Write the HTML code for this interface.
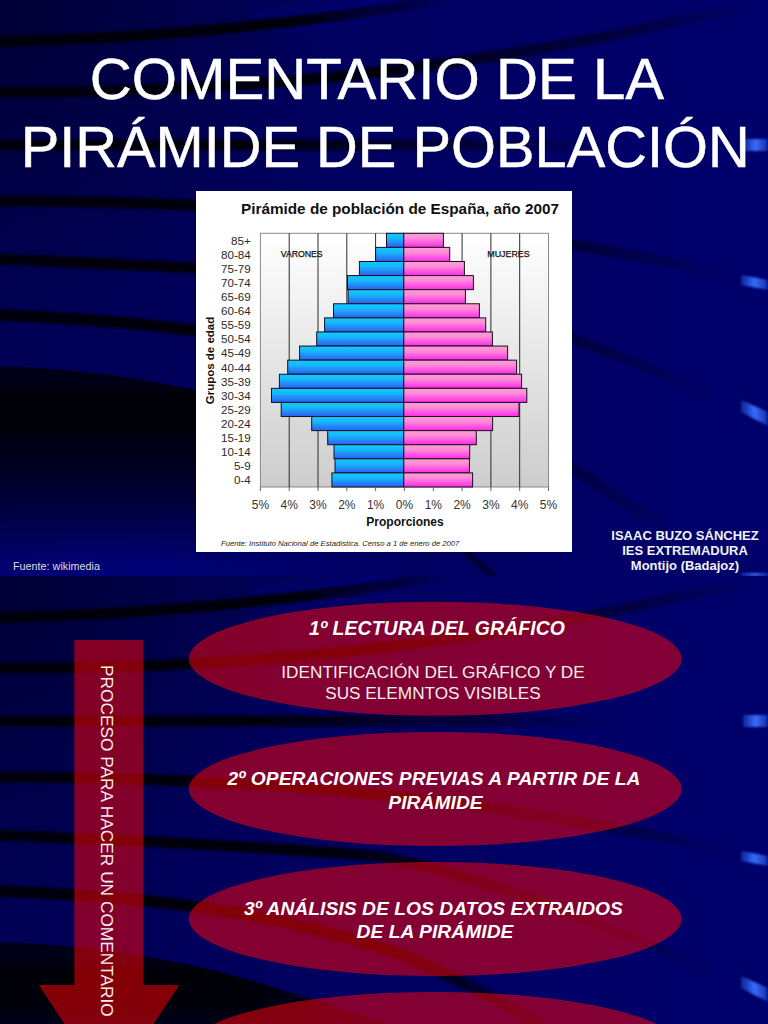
<!DOCTYPE html>
<html><head><meta charset="utf-8">
<style>
html,body{margin:0;padding:0;width:768px;height:1024px;overflow:hidden;background:#000060;}
body{position:relative;font-family:"Liberation Sans",sans-serif;}
.slide{position:absolute;left:0;width:768px;overflow:hidden;}
.abs{position:absolute;white-space:nowrap;}
</style></head><body>
<svg width="0" height="0" style="position:absolute">
<defs>
<linearGradient id="bgg" x1="0" y1="0" x2="1" y2="0">
<stop offset="0" stop-color="#000054"/><stop offset="1" stop-color="#00006c"/>
</linearGradient>
<linearGradient id="lb" x1="0" y1="0" x2="1" y2="0">
<stop offset="0" stop-color="#10248c"/><stop offset="0.2" stop-color="#1c3cc0"/><stop offset="0.5" stop-color="#3a6cf8"/><stop offset="0.65" stop-color="#2c5ae4"/><stop offset="0.92" stop-color="#1a36b4"/><stop offset="1" stop-color="#0c1c80"/>
</linearGradient>

<linearGradient id="f1" gradientUnits="userSpaceOnUse" x1="300" y1="0" x2="470" y2="0"><stop offset="0" stop-color="#00000e"/><stop offset="1" stop-color="#00000e" stop-opacity="0"/></linearGradient>
<linearGradient id="f2" gradientUnits="userSpaceOnUse" x1="380" y1="0" x2="760" y2="0"><stop offset="0" stop-color="#00000e"/><stop offset="1" stop-color="#00000e" stop-opacity="0"/></linearGradient>
<linearGradient id="f3" gradientUnits="userSpaceOnUse" x1="260" y1="0" x2="620" y2="0"><stop offset="0" stop-color="#00000e"/><stop offset="1" stop-color="#00000e" stop-opacity="0"/></linearGradient>
<linearGradient id="f4" gradientUnits="userSpaceOnUse" x1="360" y1="0" x2="740" y2="0"><stop offset="0" stop-color="#00000e"/><stop offset="1" stop-color="#00000e" stop-opacity="0"/></linearGradient>
<linearGradient id="f5" gradientUnits="userSpaceOnUse" x1="330" y1="0" x2="720"><stop offset="0" stop-color="#00000e"/><stop offset="1" stop-color="#00000e" stop-opacity="0"/></linearGradient>
<linearGradient id="f6" gradientUnits="userSpaceOnUse" x1="380" y1="0" x2="680" y2="0"><stop offset="0" stop-color="#00000e"/><stop offset="1" stop-color="#00000e" stop-opacity="0"/></linearGradient>
<linearGradient id="dkv" x1="0" y1="0" x2="0" y2="1"><stop offset="0" stop-color="#00001a"/><stop offset="0.1" stop-color="#000014"/><stop offset="0.13" stop-color="#000006"/><stop offset="0.25" stop-color="#000008"/><stop offset="0.5" stop-color="#000024"/><stop offset="0.72" stop-color="#00003a" stop-opacity="0.55"/><stop offset="0.9" stop-color="#000040" stop-opacity="0"/></linearGradient>
<linearGradient id="dkh" gradientUnits="userSpaceOnUse" x1="250" y1="0" x2="560" y2="0"><stop offset="0" stop-color="#fff"/><stop offset="1" stop-color="#000"/></linearGradient>
<mask id="mdk"><rect x="-10" y="0" width="800" height="600" fill="url(#dkh)"/></mask>
<radialGradient id="tl" gradientUnits="userSpaceOnUse" cx="0" cy="0" r="330"><stop offset="0" stop-color="#000010" stop-opacity="0.45"/><stop offset="1" stop-color="#000010" stop-opacity="0"/></radialGradient>
<linearGradient id="bl" x1="0" y1="0" x2="0" y2="1"><stop offset="0" stop-color="#0000b0" stop-opacity="0"/><stop offset="1" stop-color="#0000b0" stop-opacity="0.35"/></linearGradient>
<linearGradient id="blh" gradientUnits="userSpaceOnUse" x1="150" y1="0" x2="420" y2="0"><stop offset="0" stop-color="#fff"/><stop offset="1" stop-color="#000"/></linearGradient>
<mask id="mbl"><rect x="0" y="0" width="800" height="600" fill="url(#blh)"/></mask>
<filter id="glow" x="-20%" y="-50%" width="140%" height="200%"><feGaussianBlur stdDeviation="5"/></filter>
<filter id="soft" x="-5%" y="-20%" width="110%" height="140%"><feGaussianBlur stdDeviation="0.8"/></filter>
<g id="tpl">
<rect x="0" y="0" width="768" height="576" fill="url(#bgg)"/>
<path d="M250,22 C330,16 400,6 470,-14" stroke="#0000c8" stroke-opacity="0.16" stroke-width="22" fill="none" filter="url(#glow)"/>
<rect x="0" y="0" width="768" height="576" fill="url(#tl)"/>
<rect x="0" y="500" width="768" height="76" fill="url(#bl)" mask="url(#mbl)"/>
<g fill="none" filter="url(#soft)">
<path d="M-10,41.7 C153.3,38.8 306.7,23.9 460,-2.8" stroke="url(#f1)" stroke-width="11"/>
<path d="M-5,92 C226.7,93 453.3,76 750,5" stroke="url(#f2)" stroke-width="11"/>
<path d="M-5,145 C250,145 500,144 742,145" stroke="url(#f3)" stroke-width="11"/>
<path d="M-5,201 C196,201 400,214 572,245 C660,259 720,272 745,283" stroke="url(#f4)" stroke-width="11"/>
<path d="M-5,259 C196,267 300,273 384,281 C480,300 600,345 745,410" stroke="url(#f5)" stroke-width="11"/>
<path d="M-5,315 C196,322 300,345 400,378 C500,420 580,470 680,540" stroke="url(#f6)" stroke-width="12"/>
<path d="M440,530 C460,548 478,562 500,582" stroke="#00000e" stroke-opacity="0.55" stroke-width="7"/>
</g>
<path d="M-5,366 C80,368 160,380 220,396 C280,412 340,432 400,452 C460,480 520,520 580,580 L-5,580 Z" fill="url(#dkv)" mask="url(#mdk)"/>
<g filter="url(#soft)">
<path d="M743,139 L768,139 L768,151 L743,151 Z" fill="url(#lb)"/>
<path d="M741,275 L768,280 L768,290 L741,285 Z" fill="url(#lb)"/>
<path d="M741,400 L768,412 L768,426 L741,412 Z" fill="url(#lb)"/>
<path d="M741,573 L768,573 L768,576 L741,576 Z" fill="url(#lb)"/>
</g>
</g>
<linearGradient id="gb" x1="0" y1="0" x2="0" y2="1">
<stop offset="0" stop-color="#0ecaff"/><stop offset="0.35" stop-color="#18b8fc"/><stop offset="1" stop-color="#2c5ef2"/>
</linearGradient>
<linearGradient id="gp" x1="0" y1="0" x2="0" y2="1">
<stop offset="0" stop-color="#ff9ed6"/><stop offset="0.35" stop-color="#ff8cd8"/><stop offset="1" stop-color="#ff28ea"/>
</linearGradient>
<linearGradient id="pa" x1="0" y1="0" x2="0" y2="1">
<stop offset="0" stop-color="#ffffff"/><stop offset="1" stop-color="#cdcdcd"/>
</linearGradient>
</defs>
</svg>

<div class="slide" style="top:0;height:576px;">
<svg width="768" height="576" style="position:absolute;left:0;top:0"><use href="#tpl"/></svg>
<div class="abs" style="left:1px;width:768px;top:44.8px;text-align:center;color:#fff;font-size:58.2px;line-height:68.5px;-webkit-text-stroke:0.5px #fff;">COMENTARIO DE LA&nbsp;</div>
<div class="abs" style="left:1.2px;width:768px;top:113.3px;text-align:center;color:#fff;font-size:57.8px;line-height:68.5px;-webkit-text-stroke:0.5px #fff;">PIRÁMIDE DE POBLACIÓN</div>

<svg width="768" height="576" style="position:absolute;left:0;top:0" font-family="Liberation Sans">
<rect x="196" y="191" width="376" height="361" fill="#fff"/>
<rect x="260.4" y="233.3" width="288.1" height="253.7" fill="url(#pa)" stroke="#888" stroke-width="1"/>
<line x1="289.2" y1="233.3" x2="289.2" y2="487" stroke="#2c2c2c" stroke-width="1"/>
<line x1="318.0" y1="233.3" x2="318.0" y2="487" stroke="#2c2c2c" stroke-width="1"/>
<line x1="346.8" y1="233.3" x2="346.8" y2="487" stroke="#2c2c2c" stroke-width="1"/>
<line x1="375.6" y1="233.3" x2="375.6" y2="487" stroke="#2c2c2c" stroke-width="1"/>
<line x1="404.4" y1="233.3" x2="404.4" y2="487" stroke="#2c2c2c" stroke-width="1"/>
<line x1="433.3" y1="233.3" x2="433.3" y2="487" stroke="#2c2c2c" stroke-width="1"/>
<line x1="462.1" y1="233.3" x2="462.1" y2="487" stroke="#2c2c2c" stroke-width="1"/>
<line x1="490.9" y1="233.3" x2="490.9" y2="487" stroke="#2c2c2c" stroke-width="1"/>
<line x1="519.7" y1="233.3" x2="519.7" y2="487" stroke="#2c2c2c" stroke-width="1"/>

<text x="280.8" y="256.5" font-size="8.7" fill="#111" stroke="#111" stroke-width="0.25">VARONES</text>
<text x="487.3" y="256.5" font-size="8.9" fill="#111" stroke="#111" stroke-width="0.25">MUJERES</text>
<rect x="386.5" y="233.30" width="17.2" height="14.09" fill="url(#gb)" stroke="#151020" stroke-width="1"/>
<rect x="403.8" y="233.30" width="39.6" height="14.09" fill="url(#gp)" stroke="#151020" stroke-width="1"/>
<rect x="375.6" y="247.39" width="28.1" height="14.09" fill="url(#gb)" stroke="#151020" stroke-width="1"/>
<rect x="403.8" y="247.39" width="45.9" height="14.09" fill="url(#gp)" stroke="#151020" stroke-width="1"/>
<rect x="359.4" y="261.49" width="44.4" height="14.09" fill="url(#gb)" stroke="#151020" stroke-width="1"/>
<rect x="403.8" y="261.49" width="60.6" height="14.09" fill="url(#gp)" stroke="#151020" stroke-width="1"/>
<rect x="347.5" y="275.58" width="56.2" height="14.09" fill="url(#gb)" stroke="#151020" stroke-width="1"/>
<rect x="403.8" y="275.58" width="69.6" height="14.09" fill="url(#gp)" stroke="#151020" stroke-width="1"/>
<rect x="348.1" y="289.68" width="55.6" height="14.09" fill="url(#gb)" stroke="#151020" stroke-width="1"/>
<rect x="403.8" y="289.68" width="61.6" height="14.09" fill="url(#gp)" stroke="#151020" stroke-width="1"/>
<rect x="333.5" y="303.77" width="70.2" height="14.09" fill="url(#gb)" stroke="#151020" stroke-width="1"/>
<rect x="403.8" y="303.77" width="75.6" height="14.09" fill="url(#gp)" stroke="#151020" stroke-width="1"/>
<rect x="324.6" y="317.87" width="79.1" height="14.09" fill="url(#gb)" stroke="#151020" stroke-width="1"/>
<rect x="403.8" y="317.87" width="81.9" height="14.09" fill="url(#gp)" stroke="#151020" stroke-width="1"/>
<rect x="316.7" y="331.96" width="87.1" height="14.09" fill="url(#gb)" stroke="#151020" stroke-width="1"/>
<rect x="403.8" y="331.96" width="88.6" height="14.09" fill="url(#gp)" stroke="#151020" stroke-width="1"/>
<rect x="299.6" y="346.06" width="104.1" height="14.09" fill="url(#gb)" stroke="#151020" stroke-width="1"/>
<rect x="403.8" y="346.06" width="103.8" height="14.09" fill="url(#gp)" stroke="#151020" stroke-width="1"/>
<rect x="287.7" y="360.15" width="116.1" height="14.09" fill="url(#gb)" stroke="#151020" stroke-width="1"/>
<rect x="403.8" y="360.15" width="112.8" height="14.09" fill="url(#gp)" stroke="#151020" stroke-width="1"/>
<rect x="279.4" y="374.24" width="124.4" height="14.09" fill="url(#gb)" stroke="#151020" stroke-width="1"/>
<rect x="403.8" y="374.24" width="117.8" height="14.09" fill="url(#gp)" stroke="#151020" stroke-width="1"/>
<rect x="271.5" y="388.34" width="132.2" height="14.09" fill="url(#gb)" stroke="#151020" stroke-width="1"/>
<rect x="403.8" y="388.34" width="123.0" height="14.09" fill="url(#gp)" stroke="#151020" stroke-width="1"/>
<rect x="281.2" y="402.43" width="122.5" height="14.09" fill="url(#gb)" stroke="#151020" stroke-width="1"/>
<rect x="403.8" y="402.43" width="115.2" height="14.09" fill="url(#gp)" stroke="#151020" stroke-width="1"/>
<rect x="311.7" y="416.53" width="92.1" height="14.09" fill="url(#gb)" stroke="#151020" stroke-width="1"/>
<rect x="403.8" y="416.53" width="88.8" height="14.09" fill="url(#gp)" stroke="#151020" stroke-width="1"/>
<rect x="327.7" y="430.62" width="76.1" height="14.09" fill="url(#gb)" stroke="#151020" stroke-width="1"/>
<rect x="403.8" y="430.62" width="72.5" height="14.09" fill="url(#gp)" stroke="#151020" stroke-width="1"/>
<rect x="334.0" y="444.72" width="69.8" height="14.09" fill="url(#gb)" stroke="#151020" stroke-width="1"/>
<rect x="403.8" y="444.72" width="65.9" height="14.09" fill="url(#gp)" stroke="#151020" stroke-width="1"/>
<rect x="335.0" y="458.81" width="68.8" height="14.09" fill="url(#gb)" stroke="#151020" stroke-width="1"/>
<rect x="403.8" y="458.81" width="65.6" height="14.09" fill="url(#gp)" stroke="#151020" stroke-width="1"/>
<rect x="331.9" y="472.91" width="71.9" height="14.09" fill="url(#gb)" stroke="#151020" stroke-width="1"/>
<rect x="403.8" y="472.91" width="68.8" height="14.09" fill="url(#gp)" stroke="#151020" stroke-width="1"/>
<line x1="260.4" y1="487" x2="260.4" y2="491" stroke="#666" stroke-width="1"/>
<line x1="289.2" y1="487" x2="289.2" y2="491" stroke="#666" stroke-width="1"/>
<line x1="318.0" y1="487" x2="318.0" y2="491" stroke="#666" stroke-width="1"/>
<line x1="346.8" y1="487" x2="346.8" y2="491" stroke="#666" stroke-width="1"/>
<line x1="375.6" y1="487" x2="375.6" y2="491" stroke="#666" stroke-width="1"/>
<line x1="404.4" y1="487" x2="404.4" y2="491" stroke="#666" stroke-width="1"/>
<line x1="433.3" y1="487" x2="433.3" y2="491" stroke="#666" stroke-width="1"/>
<line x1="462.1" y1="487" x2="462.1" y2="491" stroke="#666" stroke-width="1"/>
<line x1="490.9" y1="487" x2="490.9" y2="491" stroke="#666" stroke-width="1"/>
<line x1="519.7" y1="487" x2="519.7" y2="491" stroke="#666" stroke-width="1"/>
<line x1="548.5" y1="487" x2="548.5" y2="491" stroke="#666" stroke-width="1"/>

<g font-size="11.6" fill="#2a2a2a">
<text x="250.7" y="244.6" text-anchor="end">85+</text>
<text x="250.7" y="258.7" text-anchor="end">80-84</text>
<text x="250.7" y="272.8" text-anchor="end">75-79</text>
<text x="250.7" y="286.9" text-anchor="end">70-74</text>
<text x="250.7" y="301.0" text-anchor="end">65-69</text>
<text x="250.7" y="315.1" text-anchor="end">60-64</text>
<text x="250.7" y="329.2" text-anchor="end">55-59</text>
<text x="250.7" y="343.3" text-anchor="end">50-54</text>
<text x="250.7" y="357.4" text-anchor="end">45-49</text>
<text x="250.7" y="371.5" text-anchor="end">40-44</text>
<text x="250.7" y="385.6" text-anchor="end">35-39</text>
<text x="250.7" y="399.7" text-anchor="end">30-34</text>
<text x="250.7" y="413.8" text-anchor="end">25-29</text>
<text x="250.7" y="427.9" text-anchor="end">20-24</text>
<text x="250.7" y="442.0" text-anchor="end">15-19</text>
<text x="250.7" y="456.1" text-anchor="end">10-14</text>
<text x="250.7" y="470.2" text-anchor="end">5-9</text>
<text x="250.7" y="484.3" text-anchor="end">0-4</text>
</g>
<g font-size="12" fill="#333">
<text x="260.4" y="508.6" text-anchor="middle">5%</text>
<text x="289.2" y="508.6" text-anchor="middle">4%</text>
<text x="318.0" y="508.6" text-anchor="middle">3%</text>
<text x="346.8" y="508.6" text-anchor="middle">2%</text>
<text x="375.6" y="508.6" text-anchor="middle">1%</text>
<text x="404.4" y="508.6" text-anchor="middle">0%</text>
<text x="433.3" y="508.6" text-anchor="middle">1%</text>
<text x="462.1" y="508.6" text-anchor="middle">2%</text>
<text x="490.9" y="508.6" text-anchor="middle">3%</text>
<text x="519.7" y="508.6" text-anchor="middle">4%</text>
<text x="548.5" y="508.6" text-anchor="middle">5%</text>

</g>
<text x="400" y="213.8" font-size="15.3" font-weight="bold" text-anchor="middle" fill="#111">Pirámide de población de España, año 2007</text>
<text x="405" y="525.9" font-size="12" font-weight="bold" text-anchor="middle" fill="#111">Proporciones</text>
<text transform="translate(213.6,360.5) rotate(-90)" font-size="11.5" font-weight="bold" text-anchor="middle" fill="#111">Grupos de edad</text>
<text x="221" y="546" font-size="7.66" font-style="italic" fill="#222">Fuente: Instituto Nacional de Estadística. Censo a 1 de enero de 2007</text>
</svg>

<div class="abs" style="left:13px;top:560px;font-size:10.8px;color:#ddd;">Fuente: wikimedia</div>
<div class="abs" style="left:585px;width:200px;top:528px;text-align:center;color:#f2f2f6;font-size:13px;font-weight:bold;line-height:15.1px;">ISAAC BUZO SÁNCHEZ<br>IES EXTREMADURA<br>Montijo (Badajoz)</div>
</div>

<div class="slide" style="top:576px;height:448px;">
<svg width="768" height="576" style="position:absolute;left:0;top:0"><use href="#tpl"/></svg>
<svg width="768" height="448" style="position:absolute;left:0;top:0">
<g fill="rgb(255,0,8)" fill-opacity="0.515">
<ellipse cx="435.2" cy="82.75" rx="246.4" ry="57"/>
<ellipse cx="435.2" cy="213" rx="246.4" ry="57"/>
<ellipse cx="435.2" cy="343" rx="246.4" ry="57"/>
<ellipse cx="435.2" cy="473" rx="246.4" ry="57"/>
<path d="M74.4,64 L143.5,64 L143.5,409 L179.4,409 L109,515 L38.75,409 L74.4,409 Z"/>
</g>
</svg>
<div class="abs" style="left:2px;width:870px;top:40.5px;text-align:center;color:#fff;font-size:19.4px;letter-spacing:0.1px;font-weight:bold;font-style:italic;">1º LECTURA DEL GRÁFICO</div>
<div class="abs" style="left:0;width:866px;top:86px;text-align:center;color:#eee;font-size:17.2px;line-height:21px;">IDENTIFICACIÓN DEL GRÁFICO Y DE<br>SUS ELEMNTOS VISIBLES</div>
<div class="abs" style="left:1px;width:866px;top:191px;letter-spacing:0.08px;text-align:center;color:#fff;font-size:19.2px;font-weight:bold;font-style:italic;line-height:24px;">2º OPERACIONES PREVIAS A PARTIR DE LA<br><span style="position:relative;left:1.5px">PIRÁMIDE</span></div>
<div class="abs" style="left:0.5px;width:866px;top:321px;letter-spacing:0.07px;text-align:center;color:#fff;font-size:19.2px;font-weight:bold;font-style:italic;line-height:23px;">3º ANÁLISIS DE LOS DATOS EXTRAIDOS<br><span style="position:relative;left:1.5px">DE LA PIRÁMIDE</span></div>
<div class="abs" style="left:100px;top:88.5px;transform-origin:0 0;transform:translate(16.5px,0) rotate(90deg);color:#f4eeee;font-size:17.3px;">PROCESO PARA HACER UN COMENTARIO</div>
</div>
</body></html>
